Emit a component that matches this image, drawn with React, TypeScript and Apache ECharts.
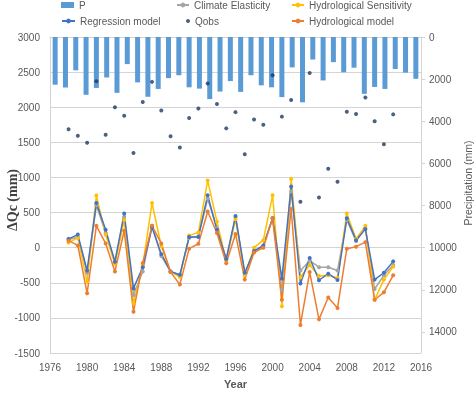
import React, { useEffect, useRef } from 'react';
import * as echarts from 'echarts';

const years = [1978, 1979, 1980, 1981, 1982, 1983, 1984, 1985, 1986, 1987, 1988, 1989, 1990, 1991, 1992, 1993, 1994, 1995, 1996, 1997, 1998, 1999, 2000, 2001, 2002, 2003, 2004, 2005, 2006, 2007, 2008, 2009, 2010, 2011, 2012, 2013];

const precipitation = [2265, 2403, 1581, 2744, 2419, 1922, 2651, 1287, 2155, 2837, 2465, 1953, 1814, 2388, 2450, 2946, 2589, 2093, 2605, 1814, 2295, 2388, 2853, 1442, 3101, 1070, 2062, 1194, 1674, 1457, 2698, 2372, 2465, 1519, 1690, 1984];

const qobs = [1685, 1593, 1495, 2370, 1607, 2000, 1880, 1347, 2074, 2361, 1954, 1588, 1426, 1847, 1982, 2338, 2046, 1699, 1930, 1329, 1824, 1750, 2454, 1866, 2102, 653, 2486, 713, 1125, 940, 1935, 1903, 2139, 1801, 1472, 1898];

const climateElasticity = [115, 153, -357, 603, 209, -209, 441, -673, -339, 311, -120, -340, -394, 139, 162, 696, 278, -172, 431, -371, -60, 23, 418, -603, 800, -325, -186, -278, -278, -325, 394, 93, 278, -589, -394, -246];

const hydroSensitivity = [75, 139, -487, 742, 186, -232, 394, -789, -255, 636, 20, -345, -418, 172, 218, 955, 371, -186, 403, -394, 0, 107, 745, -835, 978, -420, -246, -404, -394, -432, 487, 125, 311, -742, -455, -269];

const regressionModel = [125, 186, -325, 636, 255, -200, 487, -580, -278, 292, -93, -339, -385, 153, 153, 747, 255, -162, 450, -357, -46, 32, 418, -441, 872, -510, -148, -464, -371, -459, 418, 107, 264, -455, -357, -195];

const hydroModel = [100, 32, -650, 311, 60, -339, 241, -914, -218, 311, 60, -348, -524, -14, 56, 515, 209, -223, 195, -455, -70, 0, 418, -742, 550, -1100, -348, -1021, -710, -858, -14, 14, 79, -742, -636, -394];

const FONT = 'Liberation Sans';
const LABEL = '#595959';
const GRID = '#D4D4D4';

export default function App() {
  const ref = useRef<HTMLDivElement>(null);

  useEffect(() => {
    const chart = echarts.init(ref.current as HTMLDivElement, null, { renderer: 'svg' });
    const pairs = (arr: number[]) => years.map((y, i) => [y, arr[i]]);
    const plain = (v: number) => String(v);
    const legendBase = {
      padding: 0,
      selectedMode: false,
      itemGap: 0,
      textStyle: { fontFamily: FONT, fontSize: 10, color: LABEL },
    };
    const lineSeries = (name: string, data: number[], color: string) => ({
      name,
      type: 'line',
      xAxisIndex: 1,
      yAxisIndex: 0,
      data: pairs(data),
      symbol: 'circle',
      symbolSize: 4,
      lineStyle: { color, width: 1.5 },
      itemStyle: { color },
    });

    chart.setOption({
      animation: false,
      grid: { left: 50, right: 53, top: 37, bottom: 35 },
      legend: [
        { ...legendBase, data: [{ name: 'P', icon: 'rect' }], left: 61, top: 0, itemWidth: 13, itemHeight: 6 },
        { ...legendBase, data: ['Regression model'], left: 61, top: 16, itemWidth: 13, itemHeight: 6 },
        { ...legendBase, data: ['Climate Elasticity'], left: 176, top: 0, itemWidth: 12, itemHeight: 6 },
        { ...legendBase, data: [{ name: 'Qobs', icon: 'circle' }], left: 186, top: 16, itemWidth: 4, itemHeight: 4 },
        { ...legendBase, data: ['Hydrological Sensitivity'], left: 291, top: 0, itemWidth: 12, itemHeight: 6 },
        { ...legendBase, data: ['Hydrological model'], left: 291, top: 16, itemWidth: 12, itemHeight: 6 },
      ],
      xAxis: [
        {
          type: 'category',
          data: years.map(String),
          boundaryGap: true,
          show: false,
        },
        {
          type: 'value',
          min: 1976,
          max: 2016,
          interval: 4,
          position: 'bottom',
          name: 'Year',
          nameLocation: 'middle',
          nameGap: 25,
          nameTextStyle: { fontFamily: FONT, fontSize: 11, fontWeight: 'bold', color: LABEL },
          axisLine: { show: true, lineStyle: { color: GRID } },
          axisTick: { show: false },
          splitLine: { show: false },
          axisLabel: { fontFamily: FONT, fontSize: 10, color: LABEL, margin: 9, formatter: plain },
        },
      ],
      yAxis: [
        {
          type: 'value',
          min: -1500,
          max: 3000,
          interval: 500,
          position: 'left',
          axisLine: { show: true, lineStyle: { color: GRID } },
          axisTick: { show: false },
          splitLine: { show: true, lineStyle: { color: GRID, width: 1 } },
          axisLabel: { fontFamily: FONT, fontSize: 10, color: LABEL, margin: 10, formatter: plain },
        },
        {
          type: 'value',
          min: 0,
          max: 15000,
          interval: 2000,
          inverse: true,
          position: 'right',
          axisLine: { show: true, lineStyle: { color: GRID } },
          axisTick: { show: true, inside: false, length: 4, lineStyle: { color: GRID } },
          splitLine: { show: false },
          axisLabel: { fontFamily: FONT, fontSize: 10, color: LABEL, margin: 8, showMaxLabel: false, formatter: plain },
        },
      ],
      series: [
        {
          name: 'P',
          type: 'bar',
          xAxisIndex: 0,
          yAxisIndex: 1,
          data: precipitation,
          barWidth: 5,
          itemStyle: { color: '#5B9BD5' },
        },
        lineSeries('Climate Elasticity', climateElasticity, '#A5A5A5'),
        lineSeries('Hydrological Sensitivity', hydroSensitivity, '#FFC000'),
        lineSeries('Regression model', regressionModel, '#4472C4'),
        {
          name: 'Qobs',
          type: 'scatter',
          xAxisIndex: 1,
          yAxisIndex: 0,
          data: pairs(qobs),
          symbol: 'circle',
          symbolSize: 4,
          itemStyle: { color: '#1F3864' },
        },
        lineSeries('Hydrological model', hydroModel, '#ED7D31'),
      ],
      graphic: [
        {
          type: 'text',
          x: 12,
          y: 200,
          rotation: Math.PI / 2,
          style: {
            text: 'ΔQc (mm)',
            fontFamily: 'Liberation Serif',
            fontSize: 14,
            fontWeight: 'bold',
            fill: '#404040',
            align: 'center',
            verticalAlign: 'middle',
            textAlign: 'center',
            textVerticalAlign: 'middle',
          },
        },
        {
          type: 'text',
          x: 468,
          y: 183,
          rotation: Math.PI / 2,
          style: {
            text: 'Precipitation (mm)',
            fontFamily: FONT,
            fontSize: 10.5,
            fill: LABEL,
            align: 'center',
            verticalAlign: 'middle',
            textAlign: 'center',
            textVerticalAlign: 'middle',
          },
        },
      ],
    });

    return () => chart.dispose();
  }, []);

  return <div ref={ref} style={{ position: 'fixed', left: 0, top: 0, width: 474, height: 394 }} />;
}
